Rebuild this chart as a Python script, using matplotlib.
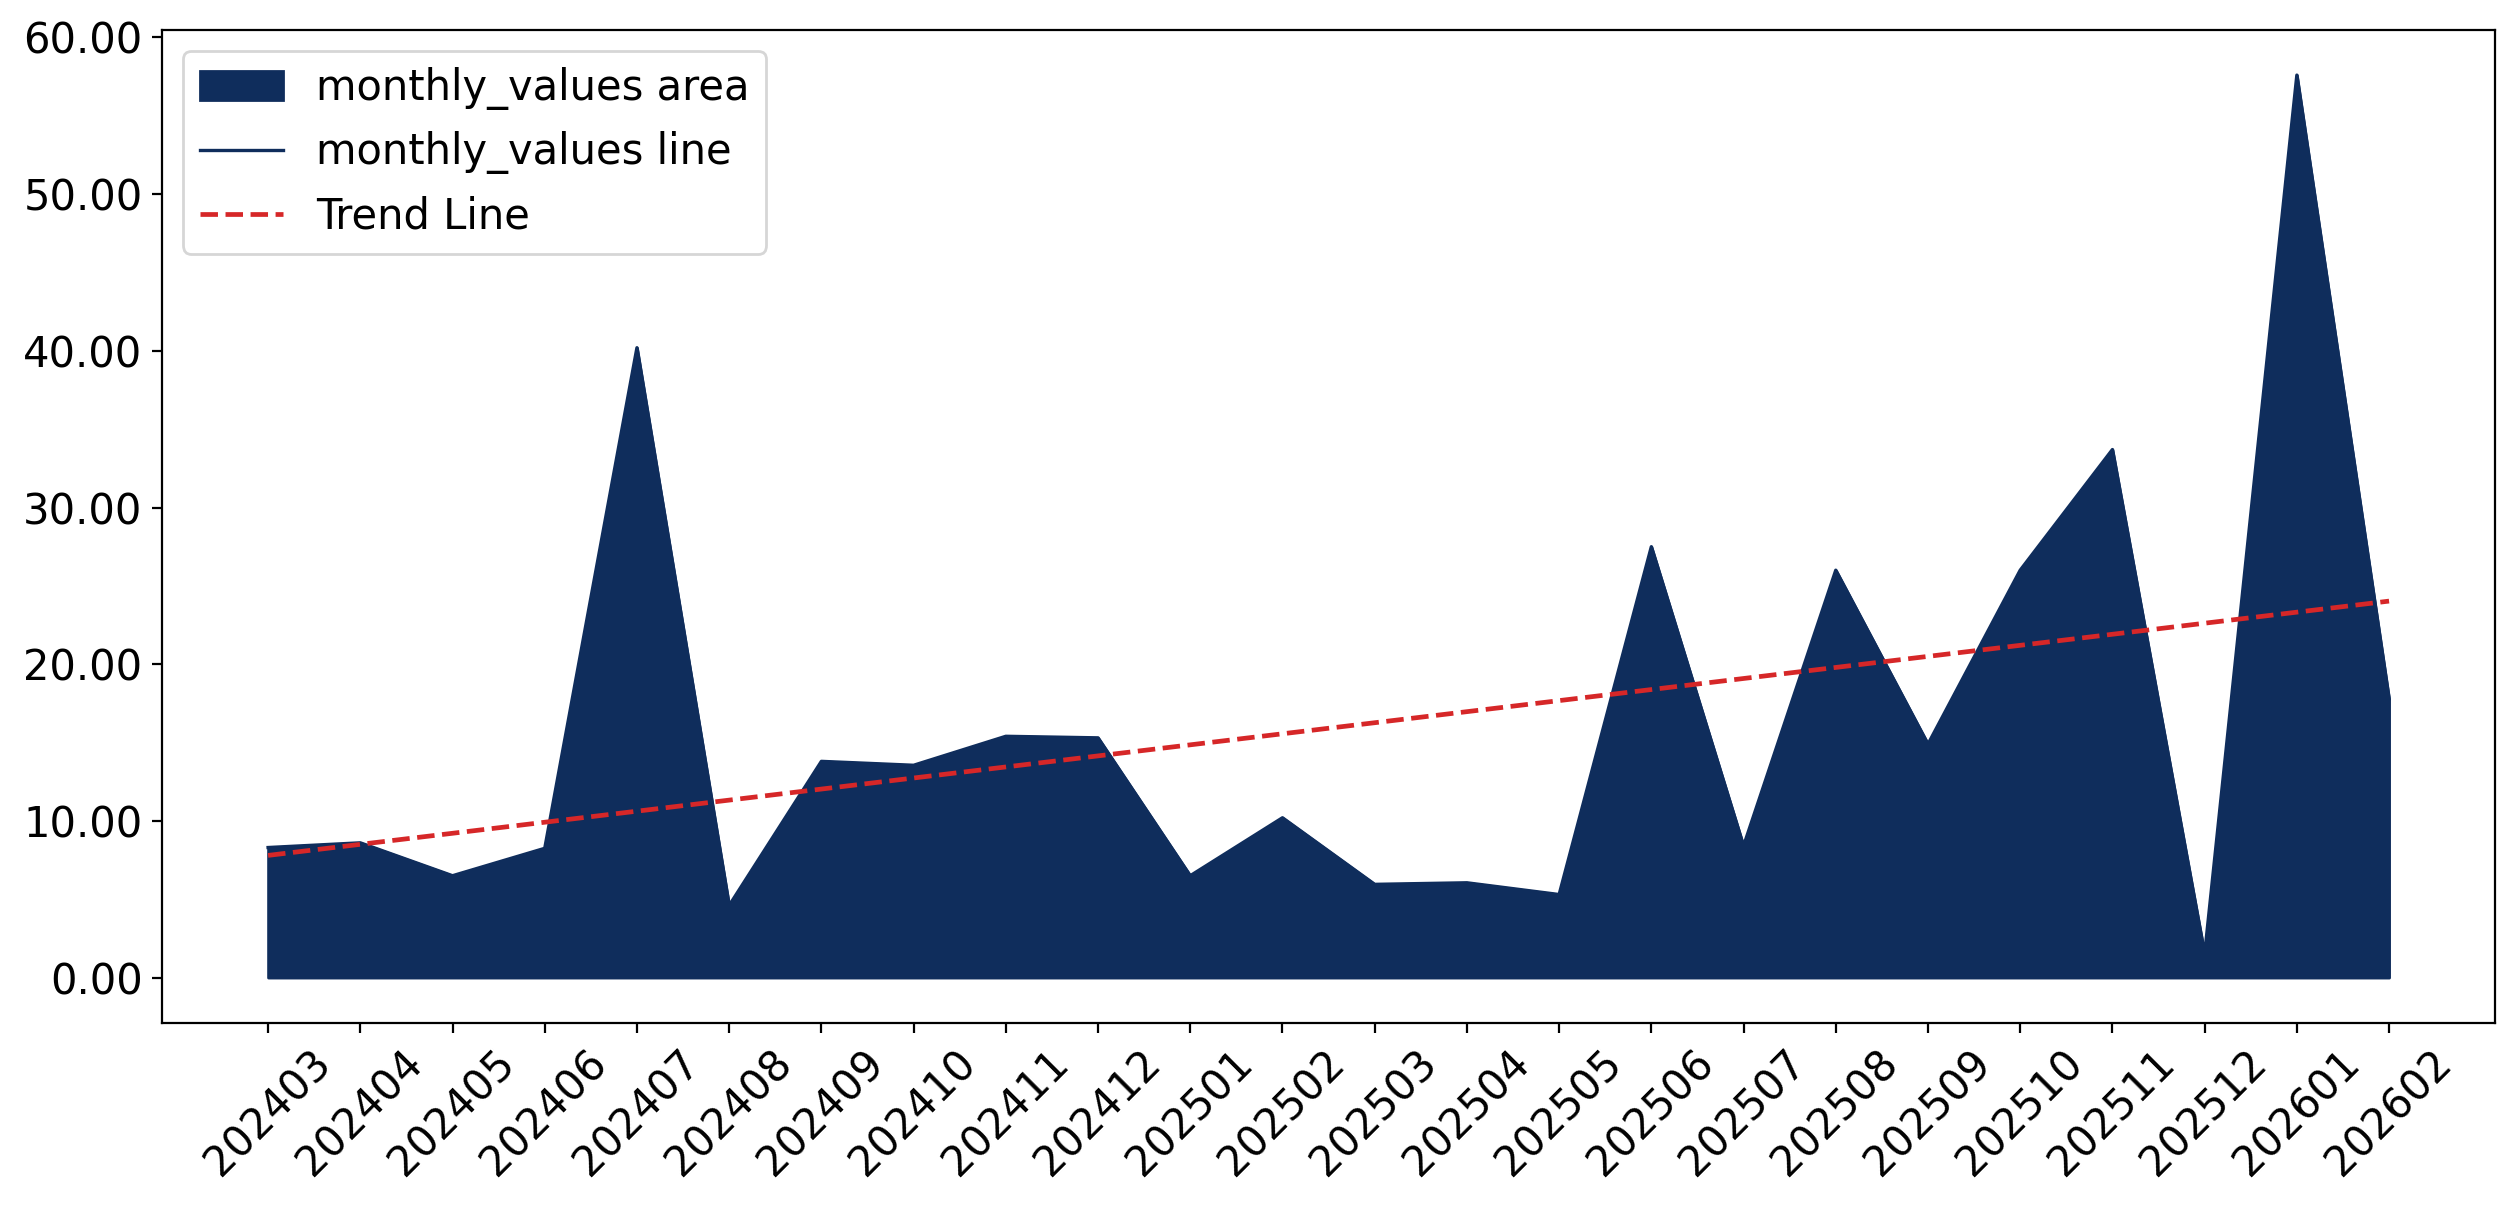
import matplotlib
matplotlib.use("Agg")
import matplotlib.pyplot as plt
import numpy as np

months = ["202403", "202404", "202405", "202406", "202407", "202408", "202409", "202410",
          "202411", "202412", "202501", "202502", "202503", "202504", "202505", "202506",
          "202507", "202508", "202509", "202510", "202511", "202512", "202601", "202602"]
monthly_values = [8.3, 8.6, 6.5, 8.25, 40.2, 4.6, 13.8, 13.55,
                  15.4, 15.3, 6.5, 10.2, 5.95, 6.05, 5.3, 27.5,
                  8.4, 26.0, 14.9, 26.0, 33.7, 1.5, 57.6, 17.8]

area_color = "#0f2d5c"
trend_color = "#d62728"

fig = plt.figure(figsize=(12.58, 6.04), dpi=200)
ax = fig.add_axes([0.0644, 0.1534, 0.9273, 0.8218])

x = np.arange(len(months))
y = np.array(monthly_values)
ax.fill_between(x, y, color=area_color, label="monthly_values area")
ax.plot(x, y, color=area_color, linewidth=1.2, label="monthly_values line")
coef = np.polyfit(x, y, 1)
ax.plot(x, np.polyval(coef, x), color=trend_color, linestyle="--", linewidth=1.7, label="Trend Line")

ax.set_xticks(x)
ax.set_xticklabels(months, rotation=45, fontsize=15)
ax.tick_params(axis="y", labelsize=15)
ax.yaxis.set_major_formatter(matplotlib.ticker.FormatStrFormatter("%.2f"))
ax.legend(loc="upper left", fontsize=15)

fig.savefig("out.png", dpi=200)
